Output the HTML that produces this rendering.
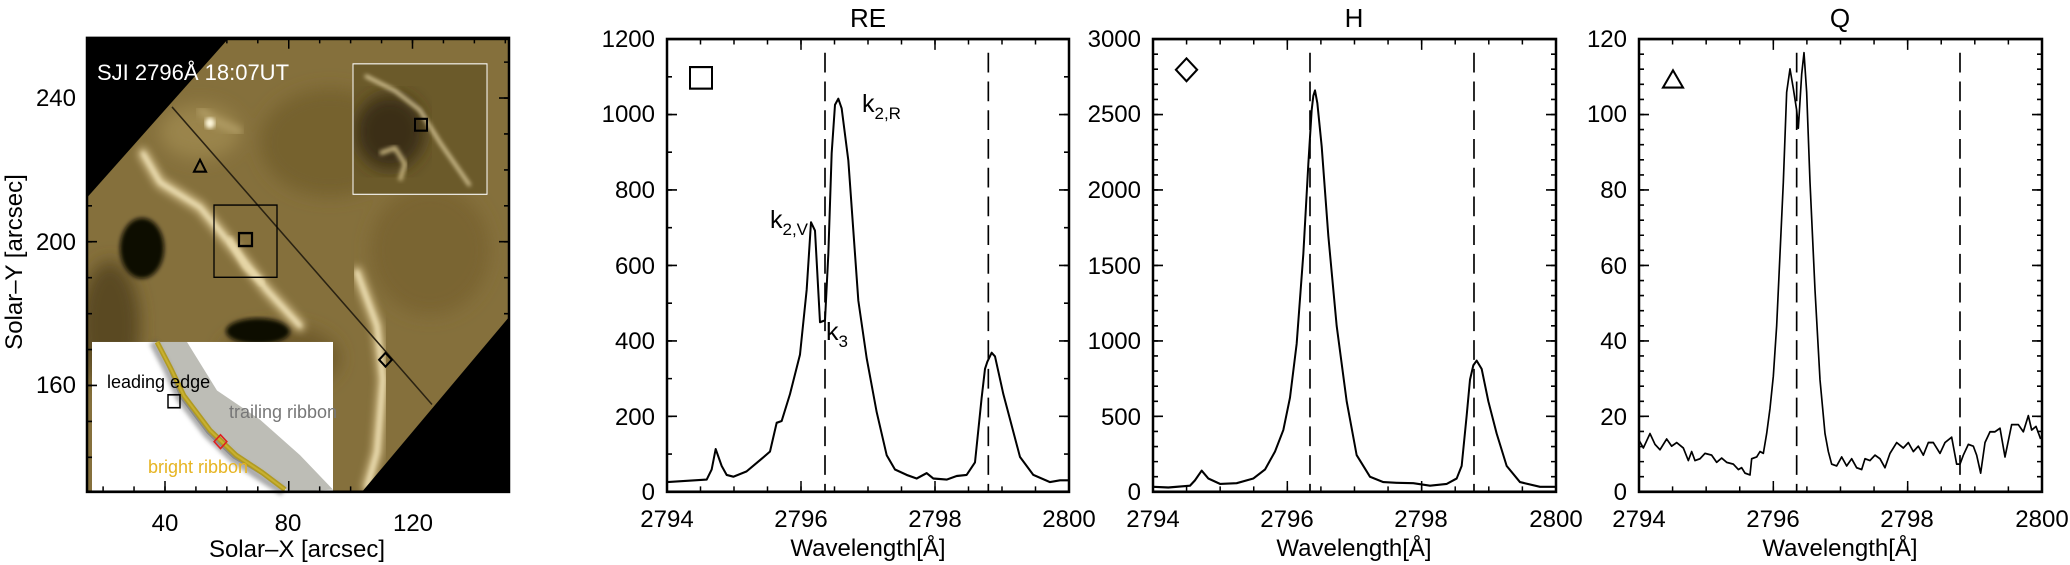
<!DOCTYPE html>
<html><head><meta charset="utf-8"><style>
html,body{margin:0;padding:0;background:#fff;width:2070px;height:565px;overflow:hidden}
svg{display:block;font-family:"Liberation Sans",sans-serif}
</style></head><body>
<svg width="2070" height="565" viewBox="0 0 2070 565" xmlns="http://www.w3.org/2000/svg">
<defs>
<filter id="b2"><feGaussianBlur stdDeviation="2"/></filter>
<filter id="b4"><feGaussianBlur stdDeviation="4"/></filter>
<filter id="b8"><feGaussianBlur stdDeviation="8"/></filter>
<clipPath id="oct"><polygon points="227,35 508,35 508,293 362,454 88,454 88,180"/></clipPath>
<clipPath id="ins"><rect x="353" y="57" width="134" height="121"/></clipPath>
</defs>
<g transform="matrix(1,0,0,1.078,0,2.4)">
<rect x="87" y="33" width="422" height="421" fill="#000"/>
<g clip-path="url(#oct)">
<rect x="87" y="33" width="422" height="421" fill="#85703c"/>
<g filter="url(#b8)">
<ellipse cx="330" cy="130" rx="70" ry="50" fill="#76622f"/>
<ellipse cx="430" cy="230" rx="60" ry="60" fill="#7a6532"/>
<ellipse cx="280" cy="330" rx="60" ry="30" fill="#6e5a2a"/>
<ellipse cx="110" cy="300" rx="30" ry="60" fill="#5a4a22"/>
<ellipse cx="200" cy="120" rx="40" ry="25" fill="#9a844c"/>
</g>
<ellipse cx="142" cy="228" rx="22" ry="28" fill="#0a0806" filter="url(#b2)"/>
<ellipse cx="258" cy="305" rx="32" ry="12" fill="#0a0806" filter="url(#b2)"/>
<g fill="none" stroke-linecap="round">
<polyline points="143,140 160,167 200,190 233,227 267,267 300,300" stroke="#d8c490" stroke-width="10" filter="url(#b4)"/>
<polyline points="143,140 160,167 200,190 233,227 267,267 300,300" stroke="#f4e8c0" stroke-width="3" filter="url(#b2)"/>
<polyline points="357,250 377,300 383,350 377,417 367,450" stroke="#d8c490" stroke-width="10" filter="url(#b4)"/>
<polyline points="357,250 377,300 383,350 377,417 367,450" stroke="#f4e8c0" stroke-width="3" filter="url(#b2)"/>
<polyline points="200,100 215,110 240,120" stroke="#b9a56d" stroke-width="6" filter="url(#b4)"/>
<circle cx="210" cy="112" r="5" fill="#fff8dc" filter="url(#b2)"/>
<polyline points="230,220 245,245 262,260" stroke="#e8d8a8" stroke-width="5" filter="url(#b2)"/>
</g>
<line x1="172" y1="97" x2="432" y2="373" stroke="#2a2212" stroke-width="1.5"/>
</g>
<rect x="353" y="57" width="134" height="121" fill="#6b5a2a"/>
<g clip-path="url(#ins)">
<ellipse cx="390" cy="120" rx="35" ry="35" fill="#3a2f15" filter="url(#b8)"/>
<polyline points="365,68 395,82 420,100 440,130 470,170" fill="none" stroke="#e8d8a8" stroke-width="3" filter="url(#b2)"/>
<polyline points="380,140 395,135 405,150 400,165" fill="none" stroke="#cbb882" stroke-width="4" filter="url(#b2)"/>
</g>
<rect x="353" y="57" width="134" height="121" fill="none" stroke="#fff" stroke-width="1"/>
<rect x="415" y="108" width="12" height="11" fill="none" stroke="#000" stroke-width="2"/>
<rect x="92" y="315" width="241" height="139" fill="#fff"/>
<polygon points="157,315 187,315 217,360 260,387 300,420 333,452 290,454 233,423 207,400 180,367" fill="#bdbdb6"/>
<polyline points="153,315 167,340 180,367 207,400 233,423 260,440 283,454" fill="none" stroke="#555" stroke-width="8" filter="url(#b2)" opacity="0.5"/>
<polyline points="157,315 171,340 184,365 210,397 236,420 262,436 285,452" fill="none" stroke="#b09a22" stroke-width="5"/>
<polyline points="157,315 171,340 184,365 210,397 236,420 262,436 285,452" fill="none" stroke="#c8b030" stroke-width="2"/>
<rect x="168" y="364" width="12" height="12" fill="none" stroke="#000" stroke-width="1.5"/>
<rect x="216" y="403" width="9" height="9" fill="none" stroke="#e02020" stroke-width="1.5" transform="rotate(45 220.5 407.5)"/>
<rect x="214" y="188" width="63" height="67" fill="none" stroke="#000" stroke-width="1.3"/>
<rect x="239" y="214" width="13" height="12" fill="none" stroke="#000" stroke-width="2.2"/>
<polygon points="200,146 206,157 194,157" fill="none" stroke="#000" stroke-width="2"/>
<rect x="381" y="327" width="9" height="9" fill="none" stroke="#000" stroke-width="2" transform="rotate(45 385.5 331.5)"/>
<rect x="87" y="33" width="422" height="421" fill="none" stroke="#000" stroke-width="2.5"/>
<g stroke="#000" stroke-width="5" fill="none">
<line x1="102.35" y1="451.5" x2="509" y2="451.5" stroke-dasharray="1.5 29.44"/>
<line x1="102.35" y1="35.5" x2="509" y2="35.5" stroke-dasharray="1.5 29.44"/>
<line x1="89.5" y1="54.65" x2="89.5" y2="454" stroke-dasharray="1.5 31.83"/>
<line x1="506.5" y1="54.65" x2="506.5" y2="454" stroke-dasharray="1.5 31.83"/>
</g>
<g stroke="#000" stroke-width="10" fill="none">
<line x1="164.25" y1="449" x2="509" y2="449" stroke-dasharray="1.5 122.25"/>
<line x1="164.25" y1="38" x2="509" y2="38" stroke-dasharray="1.5 122.25"/>
<line x1="92" y1="87.95" x2="92" y2="454" stroke-dasharray="1.5 131.8"/>
<line x1="504" y1="87.95" x2="504" y2="454" stroke-dasharray="1.5 131.8"/>
</g>

<rect x="690" y="60" width="22" height="20" fill="none" stroke="#000" stroke-width="2"/>
<g transform="translate(580,0) scale(0.33333)" fill="none" stroke="#000" stroke-width="5">
<line x1="735" y1="140" x2="735" y2="1362" stroke-dasharray="55,25"/>
<line x1="1225" y1="140" x2="1225" y2="1362" stroke-dasharray="55,25"/>
<polyline stroke-width="6" stroke-linejoin="round" points="262,1335 380,1328 395,1300 407,1243 425,1290 440,1315 460,1320 500,1305 545,1270 570,1250 590,1170 605,1165 630,1090 660,980 680,800 693,612 705,635 720,890 735,885 745,700 755,420 765,285 775,268 785,295 805,440 835,830 860,990 890,1140 920,1260 945,1300 980,1315 1010,1325 1040,1310 1060,1325 1100,1328 1130,1318 1160,1315 1185,1280 1205,1100 1215,1020 1222,1000 1235,975 1245,985 1270,1090 1290,1160 1320,1265 1360,1315 1410,1335 1440,1330 1465,1330"/>
</g>
<rect x="667" y="34" width="402" height="420" fill="none" stroke="#000" stroke-width="2.5"/>

<rect x="1179" y="55" width="15" height="15" fill="none" stroke="#000" stroke-width="2" transform="rotate(45 1186.5 62.5)"/>
<g transform="translate(1080,0) scale(0.33333)" fill="none" stroke="#000" stroke-width="5">
<line x1="690" y1="140" x2="690" y2="1362" stroke-dasharray="55,25"/>
<line x1="1182" y1="140" x2="1182" y2="1362" stroke-dasharray="55,25"/>
<polyline stroke-width="6" stroke-linejoin="round" points="220,1348 265,1350 330,1345 345,1330 365,1303 385,1325 420,1340 470,1338 520,1325 555,1300 585,1250 610,1190 630,1100 650,950 670,700 685,450 695,300 700,260 705,245 712,280 725,400 745,650 770,900 800,1110 830,1260 870,1320 910,1335 950,1337 1000,1338 1050,1345 1100,1340 1130,1325 1145,1290 1160,1150 1170,1050 1180,1010 1190,997 1205,1020 1225,1110 1250,1200 1280,1290 1320,1335 1380,1348 1425,1348"/>
</g>
<rect x="1153" y="34" width="403" height="420" fill="none" stroke="#000" stroke-width="2.5"/>

<polygon points="1673,63 1683,79 1663,79" fill="none" stroke="#000" stroke-width="2"/>
<g transform="translate(1570,0) scale(0.33333)" fill="none" stroke="#000" stroke-width="5">
<line x1="680" y1="140" x2="680" y2="1362" stroke-dasharray="55,25"/>
<line x1="1170" y1="140" x2="1170" y2="1362" stroke-dasharray="55,25"/>
<polyline stroke-width="5" stroke-linejoin="round" points="208,1220 220,1240 240,1200 255,1230 270,1245 290,1215 305,1235 320,1225 340,1240 355,1275 365,1250 375,1275 390,1270 405,1255 425,1260 440,1280 455,1268 470,1280 490,1285 505,1300 515,1295 525,1310 540,1315 545,1270 560,1265 570,1250 580,1255 590,1200 600,1130 610,1040 620,900 630,700 640,500 650,250 660,185 670,240 680,300 685,350 695,200 702,140 710,250 720,500 735,800 750,1050 765,1200 775,1250 785,1285 800,1290 815,1265 830,1290 845,1270 860,1295 875,1300 885,1270 900,1275 915,1260 930,1270 945,1295 960,1255 980,1225 1000,1240 1015,1225 1030,1250 1045,1235 1060,1260 1075,1225 1090,1225 1110,1255 1125,1225 1145,1210 1160,1285 1170,1285 1180,1260 1195,1230 1210,1235 1220,1260 1232,1310 1245,1225 1260,1195 1275,1195 1290,1185 1305,1265 1325,1175 1345,1175 1360,1195 1375,1150 1385,1190 1398,1180 1412,1215"/>
</g>
<rect x="1639" y="34" width="403" height="420" fill="none" stroke="#000" stroke-width="2.5"/>

<g stroke="#000" stroke-width="5" fill="none">
<line x1="666.25" y1="451.5" x2="1070" y2="451.5" stroke-dasharray="1.5 32"/>
<line x1="666.25" y1="36.5" x2="1070" y2="36.5" stroke-dasharray="1.5 32"/>
<line x1="669.5" y1="33.25" x2="669.5" y2="455" stroke-dasharray="1.5 33.5"/>
<line x1="1066.5" y1="33.25" x2="1066.5" y2="455" stroke-dasharray="1.5 33.5"/>
<line x1="1152.25" y1="451.5" x2="1557" y2="451.5" stroke-dasharray="1.5 32.08"/>
<line x1="1152.25" y1="36.5" x2="1557" y2="36.5" stroke-dasharray="1.5 32.08"/>
<line x1="1155.5" y1="33.25" x2="1155.5" y2="455" stroke-dasharray="1.5 12.5"/>
<line x1="1553.5" y1="33.25" x2="1553.5" y2="455" stroke-dasharray="1.5 12.5"/>
<line x1="1638.25" y1="451.5" x2="2043" y2="451.5" stroke-dasharray="1.5 32.08"/>
<line x1="1638.25" y1="36.5" x2="2043" y2="36.5" stroke-dasharray="1.5 32.08"/>
<line x1="1641.5" y1="33.25" x2="1641.5" y2="455" stroke-dasharray="1.5 12.5"/>
<line x1="2039.5" y1="33.25" x2="2039.5" y2="455" stroke-dasharray="1.5 12.5"/>
</g>
<g stroke="#000" stroke-width="10" fill="none">
<line x1="666.25" y1="449" x2="1070" y2="449" stroke-dasharray="1.5 132.5"/>
<line x1="666.25" y1="39" x2="1070" y2="39" stroke-dasharray="1.5 132.5"/>
<line x1="672" y1="33.25" x2="672" y2="455" stroke-dasharray="1.5 68.5"/>
<line x1="1064" y1="33.25" x2="1064" y2="455" stroke-dasharray="1.5 68.5"/>
<line x1="1152.25" y1="449" x2="1557" y2="449" stroke-dasharray="1.5 132.83"/>
<line x1="1152.25" y1="39" x2="1557" y2="39" stroke-dasharray="1.5 132.83"/>
<line x1="1158" y1="33.25" x2="1158" y2="455" stroke-dasharray="1.5 68.5"/>
<line x1="1551" y1="33.25" x2="1551" y2="455" stroke-dasharray="1.5 68.5"/>
<line x1="1638.25" y1="449" x2="2043" y2="449" stroke-dasharray="1.5 132.83"/>
<line x1="1638.25" y1="39" x2="2043" y2="39" stroke-dasharray="1.5 132.83"/>
<line x1="1644" y1="33.25" x2="1644" y2="455" stroke-dasharray="1.5 68.5"/>
<line x1="2037" y1="33.25" x2="2037" y2="455" stroke-dasharray="1.5 68.5"/>
</g>
</g>

<g font-size="18">
<text x="107" y="388" fill="#000">leading edge</text>
<text x="229" y="418" fill="#777">trailing ribbon</text>
<text x="148" y="473" fill="#e6b422">bright ribbon</text>
</g>
<text x="97" y="80" font-size="22" fill="#fff">SJI 2796Å 18:07UT</text>
<g font-size="24" text-anchor="middle">
<text x="165" y="531">40</text><text x="288" y="531">80</text><text x="413" y="531">120</text>
<text x="297" y="557">Solar–X [arcsec]</text>
<text x="76" y="106" text-anchor="end">240</text><text x="76" y="250" text-anchor="end">200</text><text x="76" y="393" text-anchor="end">160</text>
<text transform="translate(22,262) rotate(-90)">Solar–Y [arcsec]</text>
</g>
<g font-size="24">
<text x="868" y="27" font-size="26" text-anchor="middle">RE</text>
<text x="1354" y="27" font-size="26" text-anchor="middle">H</text>
<text x="1840" y="27" font-size="26" text-anchor="middle">Q</text>
<g text-anchor="end">
<text x="655" y="47">1200</text><text x="655" y="122">1000</text><text x="655" y="198">800</text><text x="655" y="274">600</text><text x="655" y="349">400</text><text x="655" y="425">200</text><text x="655" y="500">0</text>
<text x="1141" y="47">3000</text><text x="1141" y="122">2500</text><text x="1141" y="198">2000</text><text x="1141" y="274">1500</text><text x="1141" y="349">1000</text><text x="1141" y="425">500</text><text x="1141" y="500">0</text>
<text x="1627" y="47">120</text><text x="1627" y="122">100</text><text x="1627" y="198">80</text><text x="1627" y="274">60</text><text x="1627" y="349">40</text><text x="1627" y="425">20</text><text x="1627" y="500">0</text>
</g>
<g text-anchor="middle">
<text x="667" y="527">2794</text><text x="801" y="527">2796</text><text x="935" y="527">2798</text><text x="1069" y="527">2800</text>
<text x="1153" y="527">2794</text><text x="1287" y="527">2796</text><text x="1421" y="527">2798</text><text x="1556" y="527">2800</text>
<text x="1639" y="527">2794</text><text x="1773" y="527">2796</text><text x="1907" y="527">2798</text><text x="2042" y="527">2800</text>
<text x="868" y="556">Wavelength[Å]</text><text x="1354" y="556">Wavelength[Å]</text><text x="1840" y="556">Wavelength[Å]</text>
</g>
<text x="770" y="228" font-size="25">k<tspan font-size="17" dy="7">2,V</tspan></text>
<text x="862" y="112" font-size="25">k<tspan font-size="17" dy="7">2,R</tspan></text>
<text x="826" y="340" font-size="25">k<tspan font-size="17" dy="7">3</tspan></text>
</g>
</svg>
</body></html>
